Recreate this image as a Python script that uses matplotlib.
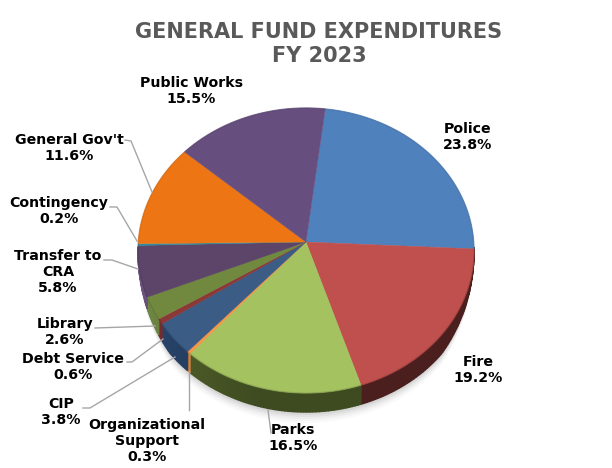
import numpy as np
import matplotlib
matplotlib.use("Agg")
import matplotlib.pyplot as plt
from matplotlib.colors import to_rgb

categories = ["Police", "Fire", "Parks", "Organizational\nSupport", "CIP", "Debt Service",
              "Library", "Transfer to\nCRA", "Contingency", "General Gov't", "Public Works"]
values = [23.8, 19.2, 16.5, 0.3, 3.8, 0.6, 2.6, 5.8, 0.2, 11.6, 15.5]
colors = ["#4F81BD", "#C0504D", "#A5C261", "#F79646", "#3B5C85", "#8C3836",
          "#71893F", "#5C4568", "#2F8A9E", "#EE7513", "#664E7E"]
side_colors = ["#2F4D72", "#4C1F1F", "#3E4A20", "#B06A30", "#1E3350", "#5A2020",
               "#4F6030", "#4A3858", "#2F8A9E", "#EE7513", "#664E7E"]
label_xy = [(468, 137), (478, 370), (293, 438), (147, 441), (61, 412), (73, 367),
            (65, 332), (58, 272), (59, 211), (69, 148), (191, 91)]
leaders = [None, None, [(268, 410), (271, 433)], [(189, 410), (189, 371)],
           [(83, 408), (90, 408), (175, 357)], [(127, 362), (132, 362), (163, 339)],
           [(95, 328), (155, 326)], [(104, 260), (112, 260), (138, 269)],
           [(110, 207), (117, 207), (137, 241)], [(125, 140), (131, 141), (152, 192)], None]

ax0, ay0 = 306, 242              # apex where the slices meet
ecx, ecy, rx, ry = 306, 250.5, 168, 142.5   # outline of the tilted top face
depth = 19
start = 7.0
total = sum(values)


def rim(a):
    a = np.radians(np.asarray(a, float))
    dx, dy = rx * np.sin(a), -ry * np.cos(a)
    oy = ay0 - ecy
    A = (dx / rx) ** 2 + (dy / ry) ** 2
    B = 2 * dy * oy / ry ** 2
    C = (oy / ry) ** 2 - 1
    t = (-B + np.sqrt(B * B - 4 * A * C)) / (2 * A)
    return ax0 + t * dx, ay0 + t * dy


fig = plt.figure(figsize=(6.12, 4.68), dpi=100)
ax = fig.add_axes([0, 0, 1, 1])
ax.set_xlim(0, 612)
ax.set_ylim(468, 0)
ax.axis("off")

# soft shadow under the pie
full = np.linspace(92, 268, 200)
sx, sy = rim(full)
for grow, alpha in zip([11, 9, 7, 5, 3, 1], [.02, .025, .03, .04, .05, .06]):
    off = (depth + grow) * np.clip(np.sin(np.radians(full - 90)) * 1.6, 0, 1)
    ax.fill(sx, sy + off, color="black", alpha=alpha, lw=0, zorder=1)

# sides and tops
edges = start + np.cumsum([0] + values) * 360 / total
for v, c, sc, a0, a1 in zip(values, colors, side_colors, edges[:-1], edges[1:]):
    lo, hi = max(a0, 92), min(a1, 268)
    if hi > lo:
        steps = np.linspace(lo, hi, max(2, int(hi - lo) + 2))
        for p, q in zip(steps[:-1], steps[1:]):
            th = np.array([p, q])
            x, y = rim(th)
            d = depth * np.clip(np.sin(np.radians(th - 90)) * 1.6, 0, 1)
            m = (p + q) / 2
            f = 1 + 0.55 * np.clip((m - 195) / 70, 0, 1)
            col = np.clip(np.array(to_rgb(sc)) * f, 0, 1)
            ax.fill(np.r_[x, x[::-1]], np.r_[y, (y + d)[::-1]], color=col, lw=1.0,
                    ec=col, zorder=2)
    th = np.linspace(a0, a1, max(3, int(a1 - a0) * 2))
    x, y = rim(th)
    ax.fill(np.r_[ax0, x], np.r_[ay0, y], color=c, lw=0.3, ec=c, zorder=3)
    dark = np.array(to_rgb(c)) * 0.85
    ax.plot(x, y, color=dark, lw=1.0, alpha=.6, zorder=4, solid_capstyle="butt")

# labels and leader lines
for name, v, (lx, ly), ld in zip(categories, values, label_xy, leaders):
    ax.text(lx, ly, f"{name}\n{v}%", ha="center", va="center", fontsize=10.2,
            fontweight="bold", family="DejaVu Sans", color="black", linespacing=1.2, zorder=6)
    if ld:
        ax.plot(*zip(*ld), color="#A6A6A6", lw=1, zorder=5)

ax.text(319, 43.5, "GENERAL FUND EXPENDITURES\nFY 2023", ha="center", va="center", fontsize=15,
        fontweight="bold", family="DejaVu Sans", color="#595959", linespacing=1.25)

fig.savefig("out.png", dpi=100)
